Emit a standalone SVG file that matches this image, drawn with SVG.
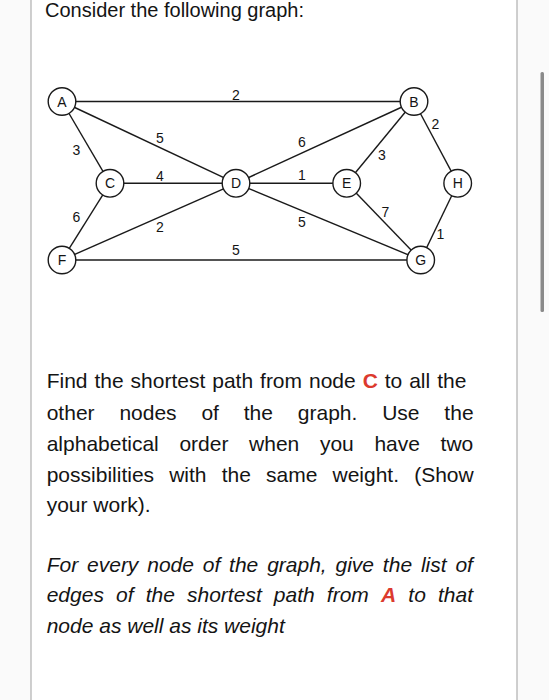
<svg xmlns="http://www.w3.org/2000/svg" width="549" height="700" viewBox="0 0 549 700">
<style>
text{font-family:"Liberation Sans",Arial,Helvetica,sans-serif;fill:#141414}
.edge{stroke:#1a1a1a;stroke-width:1.4;fill:none}
.node circle{fill:#fff;stroke:#1a1a1a;stroke-width:1.4}
.node text{font-size:14px;text-anchor:middle}
.w{font-size:14px;text-anchor:middle}
.p{font-size:21px}
.i{font-size:21px;font-style:italic}
.red{fill:#dc3a2e;font-weight:bold}
</style>
<rect x="0" y="0" width="549" height="700" fill="#fafafa"/>
<rect x="31" y="-2" width="486" height="704" fill="#fff" stroke="#b0b0b0" stroke-width="1.2"/>
<rect x="540.5" y="72" width="3.5" height="240" rx="1.5" fill="#8a8a8a"/>
<text x="45" y="16.5" style="font-size:20px">Consider the following graph:</text>
<g id="connectors">
<line class="edge" x1="62" y1="101.5" x2="414" y2="101.5"/>
<line class="edge" x1="62" y1="101.5" x2="110" y2="183.3"/>
<line class="edge" x1="62" y1="101.5" x2="236" y2="183.3"/>
<line class="edge" x1="110" y1="183.3" x2="236" y2="183.3"/>
<line class="edge" x1="110" y1="183.3" x2="62" y2="260"/>
<line class="edge" x1="62" y1="260" x2="236" y2="183.3"/>
<line class="edge" x1="62" y1="260" x2="420.7" y2="260"/>
<line class="edge" x1="236" y1="183.3" x2="414" y2="101.5"/>
<line class="edge" x1="236" y1="183.3" x2="346.7" y2="183.3"/>
<line class="edge" x1="236" y1="183.3" x2="420.7" y2="260"/>
<line class="edge" x1="346.7" y1="183.3" x2="414" y2="101.5"/>
<line class="edge" x1="346.7" y1="183.3" x2="420.7" y2="260"/>
<line class="edge" x1="414" y1="101.5" x2="457.7" y2="183.3"/>
<line class="edge" x1="457.7" y1="183.3" x2="420.7" y2="260"/>
</g>
<g id="weights">
<text class="w" x="236" y="100">2</text>
<text class="w" x="76.5" y="155">3</text>
<text class="w" x="160" y="143.3">5</text>
<text class="w" x="160" y="180.5">4</text>
<text class="w" x="76.5" y="221.7">6</text>
<text class="w" x="160" y="231.7">2</text>
<text class="w" x="236" y="254.5">5</text>
<text class="w" x="302" y="146.7">6</text>
<text class="w" x="302" y="180">1</text>
<text class="w" x="302" y="226.7">5</text>
<text class="w" x="382" y="160">3</text>
<text class="w" x="385.5" y="216.7">7</text>
<text class="w" x="435.5" y="129">2</text>
<text class="w" x="440.5" y="239.3">1</text>
</g>
<g id="A" class="node"><circle cx="62" cy="101.5" r="13.8"/><text x="62" y="106.5">A</text></g>
<g id="B" class="node"><circle cx="414" cy="101.5" r="13.8"/><text x="414" y="106.5">B</text></g>
<g id="C" class="node"><circle cx="110" cy="183.3" r="13.8"/><text x="110" y="188.3">C</text></g>
<g id="D" class="node"><circle cx="236" cy="183.3" r="13.8"/><text x="236" y="188.3">D</text></g>
<g id="E" class="node"><circle cx="346.7" cy="183.3" r="13.8"/><text x="346.7" y="188.3">E</text></g>
<g id="H" class="node"><circle cx="457.7" cy="183.3" r="13.8"/><text x="457.7" y="188.3">H</text></g>
<g id="F" class="node"><circle cx="62" cy="260" r="13.8"/><text x="62" y="265">F</text></g>
<g id="G" class="node"><circle cx="420.7" cy="260" r="13.8"/><text x="420.7" y="265">G</text></g>
<text class="p" x="46.7" y="388.3" word-spacing="1.1">Find the shortest path from node <tspan class="red">C</tspan> to all the</text>
<text class="p" x="46.7" y="420" word-spacing="19">other nodes of the graph. Use the</text>
<text class="p" x="46.7" y="450.7" word-spacing="14.8">alphabetical order when you have two</text>
<text class="p" x="46.7" y="481.7" word-spacing="9.3">possibilities with the same weight. (Show</text>
<text class="p" x="46.7" y="511.7">your work).</text>
<text class="i" x="46.7" y="571.7" word-spacing="3">For every node of the graph, give the list of</text>
<text class="i" x="46.7" y="602.3" word-spacing="6.3">edges of the shortest path from <tspan class="red">A</tspan> to that</text>
<text class="i" x="46.7" y="632.7">node as well as its weight</text>
</svg>
